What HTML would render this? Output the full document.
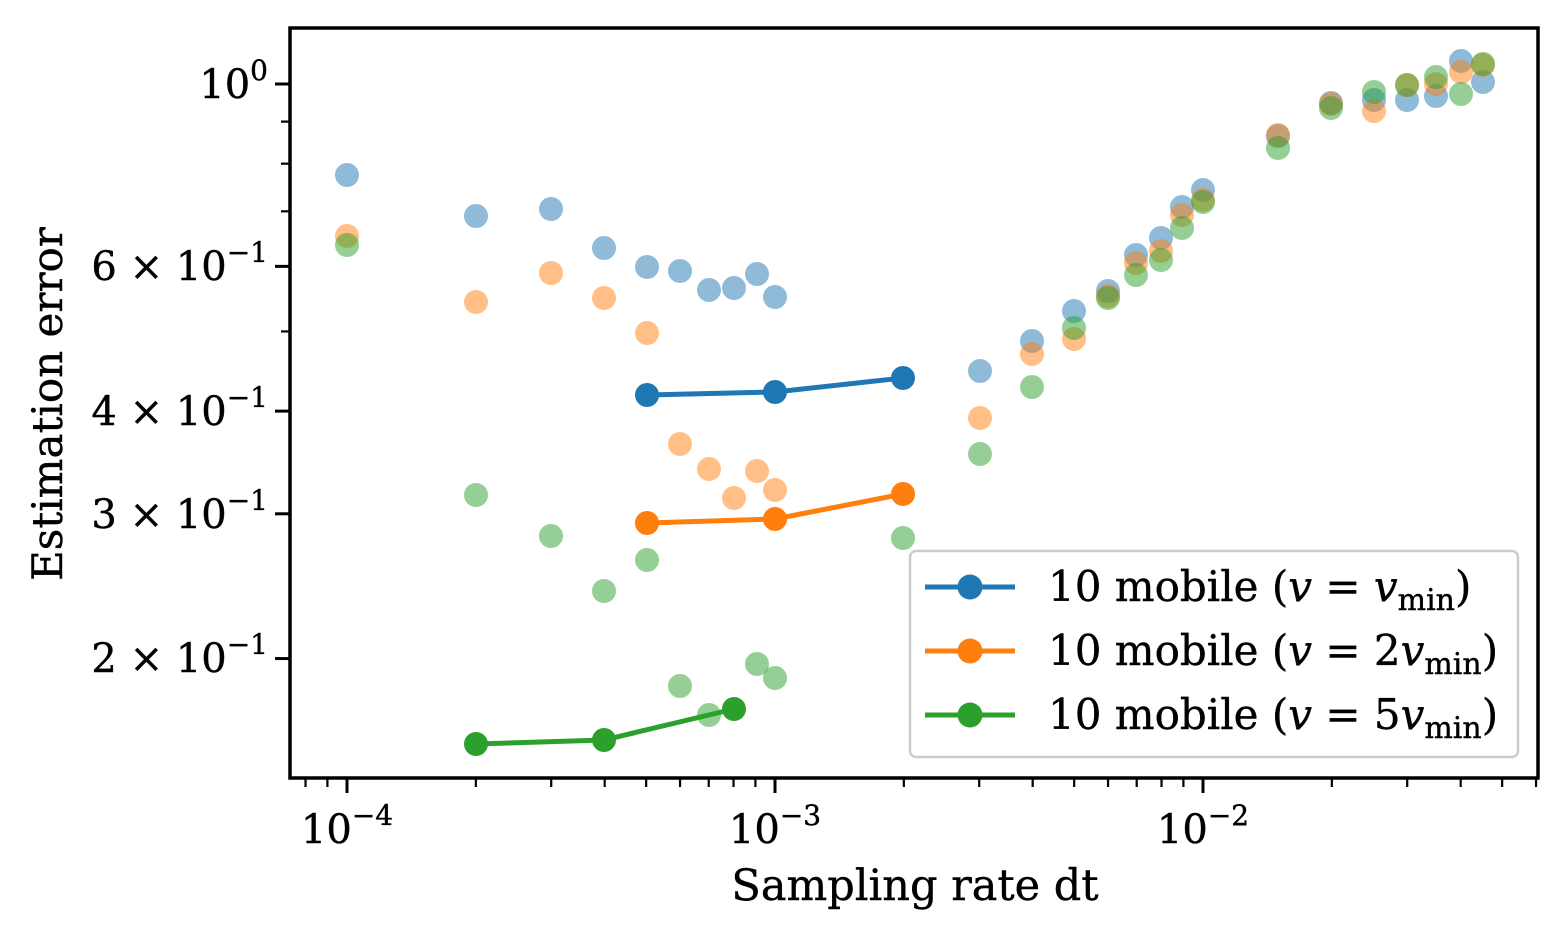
<!DOCTYPE html>
<html><head><meta charset="utf-8"><style>
html,body{margin:0;padding:0;background:#fff;}
svg{display:block;}
text{font-family:"DejaVu Serif","Liberation Serif",serif;fill:#000;stroke:#000;stroke-width:0.4;}
</style></head><body>
<svg width="1566" height="926" viewBox="0 0 1566 926" xmlns="http://www.w3.org/2000/svg">
<rect width="1566" height="926" fill="#fff"/>
<g id="pts"></g>
<rect x="290" y="28" width="1248" height="750" fill="none" stroke="#000" stroke-width="3.5"/>
<g id="ticks" stroke="#000"></g>
<g font-size="40">
<text x="347" y="843" text-anchor="middle">10<tspan dy="-18" font-size="28">−4</tspan></text>
<text x="775" y="843" text-anchor="middle">10<tspan dy="-18" font-size="28">−3</tspan></text>
<text x="1203" y="843" text-anchor="middle">10<tspan dy="-18" font-size="28">−2</tspan></text>
<text x="268" y="98" text-anchor="end">10<tspan dy="-18" font-size="28">0</tspan></text>
<text x="268" y="280" text-anchor="end">6 × 10<tspan dy="-18" font-size="28">−1</tspan></text>
<text x="268" y="425" text-anchor="end">4 × 10<tspan dy="-18" font-size="28">−1</tspan></text>
<text x="268" y="528" text-anchor="end">3 × 10<tspan dy="-18" font-size="28">−1</tspan></text>
<text x="268" y="672" text-anchor="end">2 × 10<tspan dy="-18" font-size="28">−1</tspan></text>
</g>
<text x="915" y="900" font-size="43" text-anchor="middle">Sampling rate dt</text>
<text transform="translate(62,404) rotate(-90)" font-size="42" text-anchor="middle">Estimation error</text>
<rect x="910" y="551" width="608" height="206" rx="6" fill="#fff" fill-opacity="0.8" stroke="#ccc" stroke-width="2.5"/>
<g stroke-width="5">
<line x1="925" y1="587" x2="1015" y2="587" stroke="#1f77b4"/><circle cx="970" cy="587" r="12.5" fill="#1f77b4"/>
<line x1="925" y1="651" x2="1015" y2="651" stroke="#ff7f0e"/><circle cx="970" cy="651" r="12.5" fill="#ff7f0e"/>
<line x1="925" y1="715" x2="1015" y2="715" stroke="#2ca02c"/><circle cx="970" cy="715" r="12.5" fill="#2ca02c"/>
</g>
<g font-size="42">
<text x="1048" y="601">10 mobile (<tspan font-style="italic">v</tspan> = <tspan font-style="italic">v</tspan><tspan font-size="30" dy="9">min</tspan><tspan dy="-9">)</tspan></text>
<text x="1048" y="665">10 mobile (<tspan font-style="italic">v</tspan> = 2<tspan font-style="italic">v</tspan><tspan font-size="30" dy="9">min</tspan><tspan dy="-9">)</tspan></text>
<text x="1048" y="729">10 mobile (<tspan font-style="italic">v</tspan> = 5<tspan font-style="italic">v</tspan><tspan font-size="30" dy="9">min</tspan><tspan dy="-9">)</tspan></text>
</g>
<script>
(function(){
var ns="http://www.w3.org/2000/svg";
var P=document.getElementById("pts");
function c(x,y,col,op){var e=document.createElementNS(ns,"circle");e.setAttribute("cx",x);e.setAttribute("cy",y);e.setAttribute("r",12);e.setAttribute("fill",col);if(op)e.setAttribute("fill-opacity",op);P.appendChild(e);}
function l(pts,col){var e=document.createElementNS(ns,"polyline");e.setAttribute("points",pts.map(function(p){return p.join(",")}).join(" "));e.setAttribute("fill","none");e.setAttribute("stroke",col);e.setAttribute("stroke-width",5);P.appendChild(e);pts.forEach(function(p){c(p[0],p[1],col);});}
var B=[[347,175],[476,216],[551,209],[604,248],[647,267],[680,271],[709,290],[734,288],[757,274],[775,297],[980,371],[1032,341],[1074,311],[1108,291],[1136,255],[1161,238],[1182,207],[1203,190],[1278,136],[1331,103],[1374,100],[1407,100],[1436,96],[1461,61],[1483,82]];
var O=[[347,236],[476,302],[551,273],[604,298],[647,333],[680,444],[709,469],[734,498],[757,471],[775,490],[980,418],[1032,354],[1074,339],[1108,296],[1136,263],[1161,251],[1182,215],[1203,200],[1278,135],[1331,104],[1374,111],[1407,85],[1436,84],[1461,72],[1483,65]];
var G=[[347,245],[476,495],[551,536],[604,591],[647,560],[680,686],[709,715],[757,664],[775,678],[903,538],[980,454],[1032,387],[1074,328],[1108,298],[1136,275],[1161,260],[1182,228],[1203,202],[1278,148],[1331,108],[1374,92],[1407,85],[1436,77],[1461,94],[1483,64]];
B.forEach(function(p){c(p[0],p[1],"#1f77b4",0.5)});
O.forEach(function(p){c(p[0],p[1],"#ff7f0e",0.5)});
G.forEach(function(p){c(p[0],p[1],"#2ca02c",0.5)});
l([[647,395],[775,392],[903,378]],"#1f77b4");
l([[647,523],[775,519],[903,494]],"#ff7f0e");
l([[476,744],[604,740],[734,709]],"#2ca02c");
var T=document.getElementById("ticks");
function ln(x1,y1,x2,y2,w){var e=document.createElementNS(ns,"line");e.setAttribute("x1",x1);e.setAttribute("y1",y1);e.setAttribute("x2",x2);e.setAttribute("y2",y2);e.setAttribute("stroke-width",w);T.appendChild(e);}
for(var d=-5;d<=-2;d++){for(var m=1;m<10;m++){var x=347+428*(Math.log10(m*Math.pow(10,d))+4);if(x<291||x>1537)continue;if(m==1)ln(x,779,x,793,3);else ln(x,779,x,787,2.2);}}
function yv(v){return 84-822*Math.log10(v);}
[1,0.6,0.4,0.3,0.2].forEach(function(v){ln(275,yv(v),289,yv(v),3);});
[0.9,0.8,0.7,0.5].forEach(function(v){ln(281,yv(v),289,yv(v),2.2);});
})();
</script>
</svg>
</body></html>
